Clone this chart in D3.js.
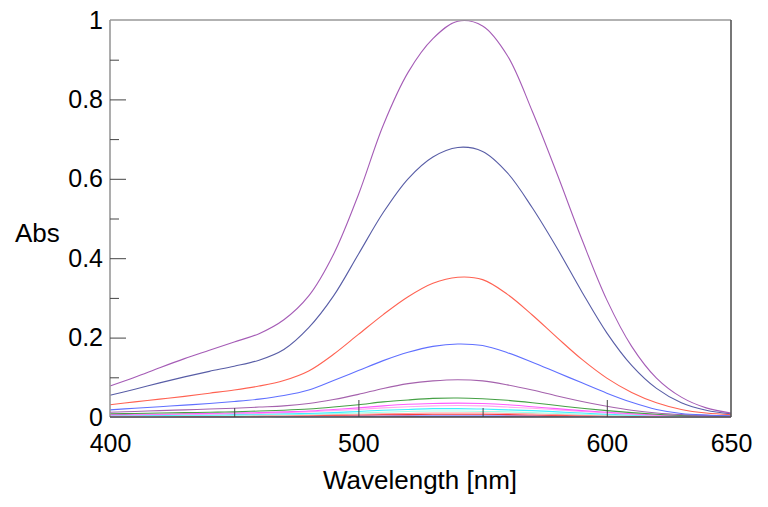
<!DOCTYPE html>
<html>
<head>
<meta charset="utf-8">
<script src="https://cdn.jsdelivr.net/npm/d3@7"></script>
<style>
  body { margin: 0; background: #fff; }
  svg text { font-family: "Liberation Sans", Arial, sans-serif; }
</style>
</head>
<body>
<script>
// wavelengths (nm)
var wavelengths = [400, 410, 420, 430, 440, 450, 460, 470, 480, 490, 500, 510, 520,
                   530, 540, 550, 560, 570, 580, 590, 600, 610, 620, 630, 640, 650];

// absorbance spectra, largest first
var abs1  = [0.078, 0.100, 0.124, 0.147, 0.168, 0.189, 0.210, 0.245, 0.305, 0.410, 0.560, 0.735, 0.868,
             0.953, 0.997, 0.985, 0.910, 0.770, 0.612, 0.447, 0.295, 0.178, 0.098, 0.050, 0.023, 0.010];
var abs2  = [0.055, 0.070, 0.086, 0.101, 0.115, 0.128, 0.143, 0.170, 0.225, 0.305, 0.410, 0.515, 0.600,
             0.655, 0.679, 0.669, 0.615, 0.527, 0.425, 0.315, 0.212, 0.130, 0.072, 0.036, 0.017, 0.008];
var abs3  = [0.031, 0.038, 0.045, 0.052, 0.060, 0.068, 0.078, 0.092, 0.116, 0.158, 0.208, 0.258, 0.303,
             0.337, 0.352, 0.346, 0.309, 0.257, 0.200, 0.145, 0.098, 0.062, 0.036, 0.019, 0.010, 0.006];
var abs4  = [0.018, 0.022, 0.026, 0.030, 0.034, 0.039, 0.045, 0.054, 0.068, 0.092, 0.117, 0.142, 0.163,
             0.178, 0.184, 0.180, 0.162, 0.138, 0.112, 0.086, 0.060, 0.037, 0.019, 0.009, 0.005, 0.003];
var abs5  = [0.012, 0.014, 0.016, 0.018, 0.020, 0.022, 0.025, 0.028, 0.034, 0.044, 0.057, 0.072, 0.084,
             0.091, 0.094, 0.091, 0.081, 0.068, 0.053, 0.039, 0.027, 0.017, 0.010, 0.006, 0.004, 0.002];
var abs6  = [0.008, 0.009, 0.010, 0.011, 0.012, 0.013, 0.015, 0.017, 0.020, 0.025, 0.031, 0.038, 0.043,
             0.047, 0.048, 0.046, 0.042, 0.036, 0.029, 0.022, 0.016, 0.011, 0.007, 0.004, 0.003, 0.002];
var abs7  = [0.006, 0.007, 0.007, 0.008, 0.009, 0.010, 0.011, 0.013, 0.015, 0.019, 0.023, 0.028, 0.032,
             0.034, 0.035, 0.034, 0.031, 0.026, 0.021, 0.016, 0.012, 0.008, 0.005, 0.003, 0.002, 0.001];
var abs8  = [0.005, 0.005, 0.006, 0.007, 0.007, 0.008, 0.009, 0.011, 0.013, 0.016, 0.019, 0.023, 0.026,
             0.028, 0.029, 0.028, 0.025, 0.022, 0.018, 0.014, 0.010, 0.007, 0.004, 0.003, 0.002, 0.001];
var abs9  = [0.004, 0.004, 0.004, 0.005, 0.005, 0.006, 0.007, 0.008, 0.009, 0.011, 0.014, 0.017, 0.019,
             0.021, 0.021, 0.020, 0.018, 0.016, 0.013, 0.010, 0.007, 0.005, 0.003, 0.002, 0.001, 0.001];
var abs10 = [0.003, 0.003, 0.003, 0.004, 0.004, 0.004, 0.005, 0.006, 0.007, 0.008, 0.010, 0.012, 0.014,
             0.015, 0.015, 0.014, 0.013, 0.011, 0.009, 0.007, 0.005, 0.004, 0.002, 0.001, 0.001, 0.001];
var abs11 = [0.002, 0.002, 0.002, 0.003, 0.003, 0.003, 0.003, 0.004, 0.005, 0.006, 0.007, 0.008, 0.009,
             0.010, 0.010, 0.010, 0.009, 0.008, 0.006, 0.005, 0.004, 0.003, 0.002, 0.001, 0.001, 0.000];
var abs12 = [0.002, 0.002, 0.002, 0.002, 0.002, 0.002, 0.003, 0.003, 0.003, 0.004, 0.005, 0.006, 0.006,
             0.007, 0.007, 0.007, 0.006, 0.005, 0.004, 0.003, 0.003, 0.002, 0.001, 0.001, 0.000, 0.000];
var abs13 = [0.001, 0.001, 0.001, 0.001, 0.001, 0.001, 0.002, 0.002, 0.002, 0.002, 0.003, 0.003, 0.004,
             0.004, 0.004, 0.004, 0.004, 0.003, 0.003, 0.002, 0.002, 0.001, 0.001, 0.000, 0.000, 0.000];
var abs14 = [0.000, 0.000, 0.000, 0.000, 0.000, 0.000, 0.001, 0.001, 0.001, 0.001, 0.001, 0.001, 0.001,
             0.001, 0.001, 0.001, 0.001, 0.001, 0.001, 0.001, 0.001, 0.000, 0.000, 0.000, 0.000, 0.000];

var series = [abs1, abs2, abs3, abs4, abs5, abs6, abs7, abs8, abs9, abs10, abs11, abs12, abs13, abs14];
var colors = ["#a55cb6", "#585da6", "#ff6252", "#6070ff", "#a562ad", "#45a045", "#ff5cff",
              "#ffaaf0", "#3ef0ff", "#a0ffe8", "#ffa0a0", "#ff3c3c", "#a4a4ff", "#555594"];

// tick labels
var yLabels = [0, 0.2, 0.4, 0.6, 0.8, 1];
var yMajor = [0.2, 0.4, 0.6, 0.8];
var yMinor = [0.1, 0.3, 0.5, 0.7, 0.9];
var xLabels = [400, 500, 600, 650];
var xMajor = [500, 600];
var xMinor = [450, 550];

var w = 768, h = 507;
var mLeft = 110, mRight = 731, mTop = 20, mBottom = 417;

var svg = d3.select("body").append("svg")
    .attr("width", w)
    .attr("height", h);

var x = d3.scaleLinear().domain([400, 650]).range([mLeft, mRight]);
var y = d3.scaleLinear().domain([0, 1]).range([mBottom, mTop]);

// curves, drawn smallest first so the big ones sit on top
var line = d3.line()
    .x(function(d, i) { return x(wavelengths[i]); })
    .y(function(d) { return y(d); })
    .curve(d3.curveCatmullRom.alpha(0.5));

svg.append("g").selectAll("path")
  .data(series.map(function(s, i) { return {values: s, color: colors[i]}; }).reverse())
  .enter()
  .append("path")
  .attr("d", function(d) { return line(d.values); })
  .attr("fill", "none")
  .attr("stroke", function(d) { return d.color; })
  .attr("stroke-width", 1.1);

// frame: top/left light gray, right/bottom dark
svg.append("line").attr("x1", mLeft).attr("x2", mRight).attr("y1", mTop).attr("y2", mTop)
  .attr("stroke", "#999").attr("stroke-width", 1.6);
svg.append("line").attr("x1", mLeft).attr("x2", mLeft).attr("y1", mTop).attr("y2", mBottom)
  .attr("stroke", "#999").attr("stroke-width", 1.6);
svg.append("line").attr("x1", mRight).attr("x2", mRight).attr("y1", mTop).attr("y2", mBottom)
  .attr("stroke", "#555").attr("stroke-width", 1.6);
svg.append("line").attr("x1", mLeft).attr("x2", mRight).attr("y1", mBottom).attr("y2", mBottom)
  .attr("stroke", "#555").attr("stroke-width", 1.6);

function tickAxis(axis, values, size, tx, ty) {
  var g = svg.append("g")
      .attr("transform", "translate(" + tx + "," + ty + ")")
      .call(axis.tickValues(values).tickSize(size).tickFormat(""));
  g.select(".domain").remove();
  g.selectAll("line").attr("stroke", "#444").attr("stroke-width", 1);
  return g;
}

tickAxis(d3.axisLeft(y), yMajor, -16, mLeft, 0);
tickAxis(d3.axisLeft(y), yMinor, -9, mLeft, 0);
tickAxis(d3.axisBottom(x), xMajor, -17, 0, mBottom);
tickAxis(d3.axisBottom(x), xMinor, -9, 0, mBottom);

// labels
var gy = svg.append("g")
    .attr("transform", "translate(" + mLeft + ",0)")
    .call(d3.axisLeft(y).tickValues(yLabels).tickSize(0).tickPadding(7)
      .tickFormat(function(d) { return d === 0 || d === 1 ? d : d.toFixed(1); }));
gy.select(".domain").remove();
gy.selectAll("text").attr("font-size", "25px").attr("fill", "#000")
  .attr("font-family", "'Liberation Sans', Arial, sans-serif");

var gx = svg.append("g")
    .attr("transform", "translate(0," + mBottom + ")")
    .call(d3.axisBottom(x).tickValues(xLabels).tickSize(0).tickPadding(17));
gx.select(".domain").remove();
gx.selectAll("text").attr("font-size", "25px").attr("fill", "#000")
  .attr("font-family", "'Liberation Sans', Arial, sans-serif");

svg.append("text")
  .attr("x", 420)
  .attr("y", 489)
  .attr("text-anchor", "middle")
  .attr("font-size", "26px")
  .text("Wavelength [nm]");

svg.append("text")
  .attr("x", 15)
  .attr("y", 242)
  .attr("font-size", "26px")
  .text("Abs");
</script>
</body>
</html>
